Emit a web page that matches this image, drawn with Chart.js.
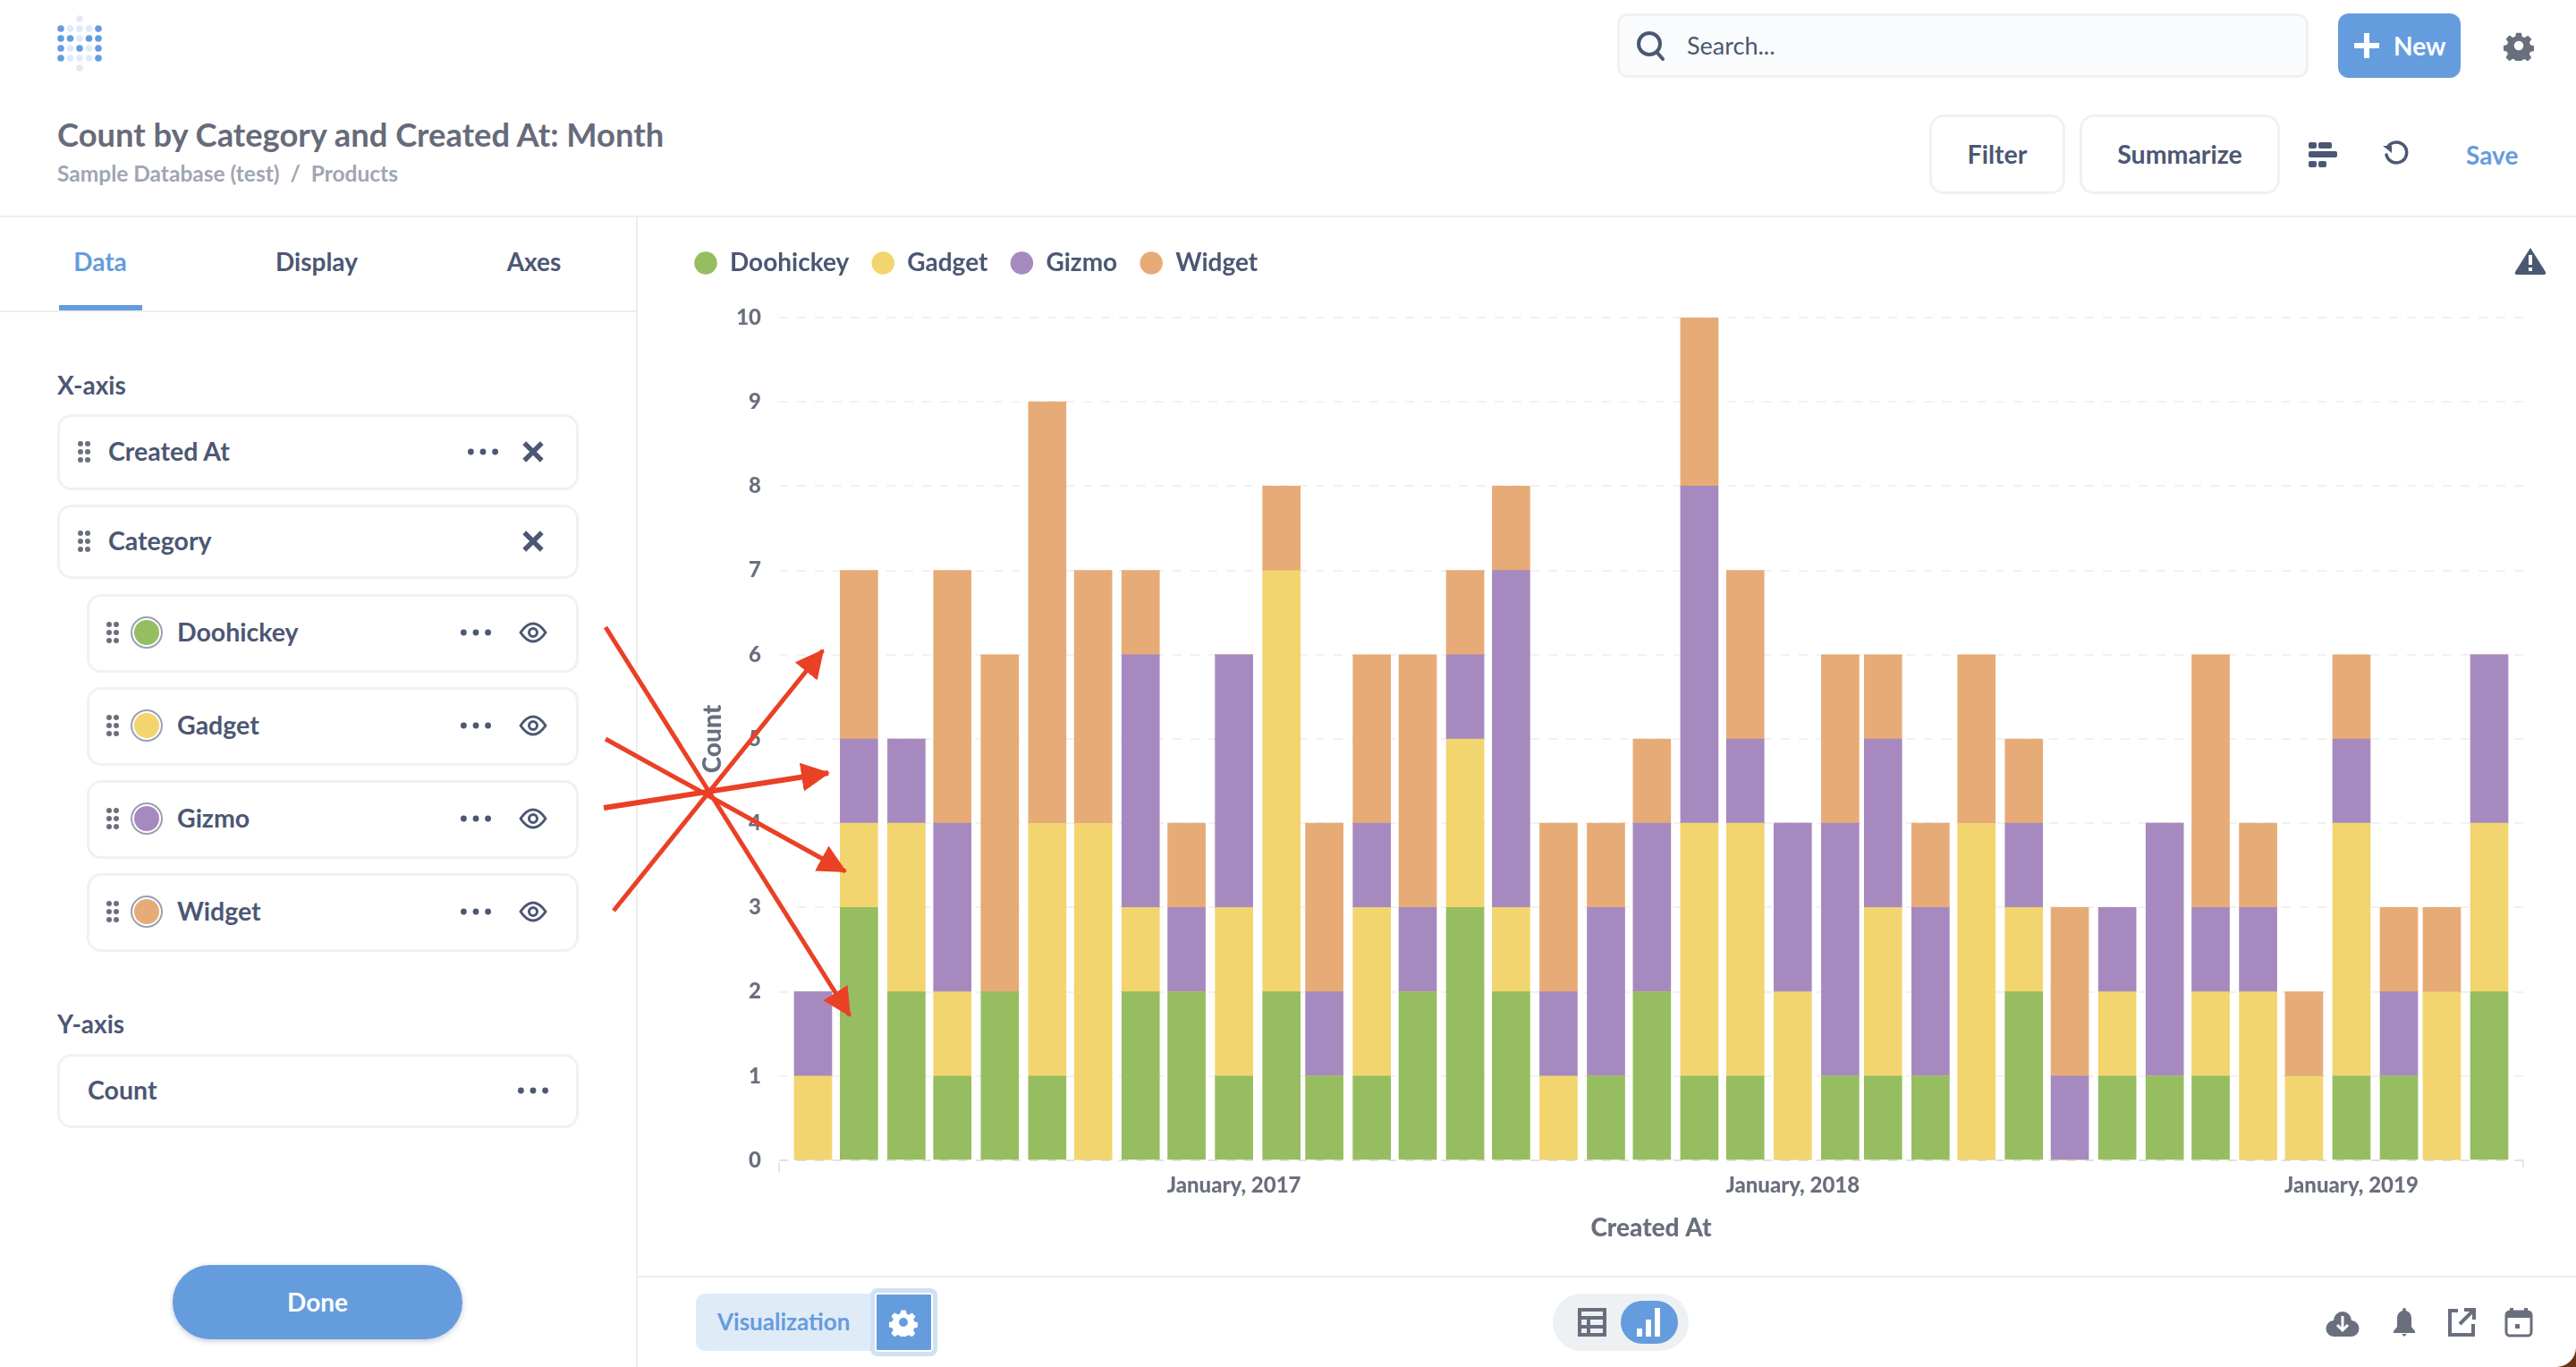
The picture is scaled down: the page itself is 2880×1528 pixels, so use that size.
<!DOCTYPE html>
<html>
<head>
<meta charset="utf-8">
<title>Count by Category and Created At: Month</title>
<script src="https://cdn.jsdelivr.net/npm/chart.js@4"></script>
<style>
  html, body { margin: 0; padding: 0; background: #fff; }
  body { position: relative; width: 2880px; height: 1528px; overflow: hidden; font-family: Lato, "Open Sans", sans-serif; font-weight: 700; color: #4c5773; }
  .t { position: absolute; line-height: 1; white-space: nowrap; transform: translateY(calc(-50% - 1.5px)); }
  .c { transform: translate(-50%, calc(-50% - 1.5px)); }
  .line { position: absolute; background: #eeeef0; }
  .box { position: absolute; box-sizing: border-box; border: 3px solid #f1f1f3; border-radius: 16px; background: #fff; }
  .ic { position: absolute; overflow: visible; }
  canvas { position: absolute; left: 751px; top: 255px; }
</style>
</head>
<body>

<svg width="0" height="0" style="position:absolute">
  <defs>
    <symbol id="gear" viewBox="0 0 32 32"><path fill="currentColor" fill-rule="evenodd" d="M13 1h6l1 4.500 2.800 1.200 4-2.500 4.200 4.200-2.500 4 1.200 2.800 4.300 1v6l-4.500 1-1.200 2.800 2.500 4-4.200 4.200-4-2.500-2.800 1.200-1 4.100h-6l-1-4.300-2.800-1.200-4 2.500-4.200-4.200 2.500-4-1.200-2.800-4.300-1v-6l4.500-1 1.200-2.800-2.500-4 4.200-4.200 4 2.500 2.800-1.200zM16 10.500a5.500 5.500 0 1 0 0 11 5.500 5.500 0 0 0 0-11z" transform="translate(1.600 1.600) scale(.9)"/></symbol>
    <symbol id="drag" viewBox="0 0 14 24"><g fill="currentColor"><circle cx="3" cy="3" r="3"/><circle cx="11" cy="3" r="3"/><circle cx="3" cy="12" r="3"/><circle cx="11" cy="12" r="3"/><circle cx="3" cy="21" r="3"/><circle cx="11" cy="21" r="3"/></g></symbol>
    <symbol id="more" viewBox="0 0 40 8"><g fill="currentColor"><circle cx="4" cy="4" r="4"/><circle cx="20" cy="4" r="4"/><circle cx="36" cy="4" r="4"/></g></symbol>
    <symbol id="eye" viewBox="0 0 32 24"><path fill="none" stroke="currentColor" stroke-width="3" stroke-linejoin="round" d="M2 12C7 4.500 11 2 16 2s9 2.500 14 10c-5 7.500-9 10-14 10S7 19.500 2 12z"/><circle cx="16" cy="12" r="4.500" fill="none" stroke="currentColor" stroke-width="3"/></symbol>
    <symbol id="cross" viewBox="0 0 24 24"><path stroke="currentColor" stroke-width="5" d="M3 3l18 18M21 3L3 21"/></symbol>
  </defs>
</svg>

<!-- logo -->
<svg class="ic" style="left:60px;top:14px" width="60" height="68" viewBox="0 0 60 68" id="logo"></svg>

<!-- top bar -->
<div class="box" style="left:1808px;top:15px;width:773px;height:72px;background:#f9fbfc;border-radius:12px"></div>
<svg class="ic" style="left:1828px;top:34px" width="36" height="36" viewBox="0 0 36 36"><circle cx="16" cy="15" r="12" fill="none" stroke="#4c5773" stroke-width="4"/><path d="M24 24l7 8" stroke="#4c5773" stroke-width="4" stroke-linecap="round"/></svg>
<div class="t" style="left:1886px;top:52px;font-size:27px;font-weight:400">Search...</div>
<div style="position:absolute;left:2614px;top:15px;width:137px;height:72px;background:#659cdd;border-radius:12px"></div>
<svg class="ic" style="left:2632px;top:37px" width="28" height="28" viewBox="0 0 28 28"><path d="M14 0v28M0 14h28" stroke="#fff" stroke-width="6"/></svg>
<div class="t" style="left:2676px;top:52px;font-size:28px;color:#fff">New</div>
<svg class="ic" style="left:2799px;top:34px;color:#6a6f7e" width="34" height="34"><use href="#gear"/></svg>

<div class="t" style="left:64px;top:152px;font-size:36.300px;color:#666b7a">Count by Category and Created At: Month</div>
<div class="t" style="left:64px;top:196px;font-size:24.500px;color:#a0a5b5">Sample Database (test)&nbsp; /&nbsp; Products</div>

<div class="box" style="left:2157px;top:128px;width:152px;height:89px"></div>
<div class="t c" style="left:2233px;top:174px;font-size:28.500px">Filter</div>
<div class="box" style="left:2325px;top:128px;width:224px;height:89px"></div>
<div class="t c" style="left:2437px;top:174px;font-size:28.500px">Summarize</div>
<svg class="ic" style="left:2581px;top:159px" width="32" height="28" viewBox="0 0 32 28"><g fill="#4c5773"><rect x="0" y="0" width="9" height="7" rx="2"/><rect x="11" y="0" width="15" height="7" rx="2"/><rect x="0" y="10" width="32" height="7" rx="2"/><rect x="0" y="21" width="9" height="7" rx="2"/><rect x="11" y="21" width="9" height="7" rx="2"/></g></svg>
<svg class="ic" style="left:2663px;top:157px" width="30" height="28" viewBox="0 0 30 28"><path d="M7 6.500A11.500 11.500 0 1 1 5 16" fill="none" stroke="#4c5773" stroke-width="3.500" stroke-linecap="round"/><path d="M1 6h10v8z" fill="#4c5773"/></svg>
<div class="t" style="left:2757px;top:174px;font-size:28px;color:#659cdd">Save</div>

<!-- dividers -->
<div class="line" style="left:0;top:241px;width:2880px;height:2px"></div>
<div class="line" style="left:711px;top:241px;width:2px;height:1287px"></div>
<div class="line" style="left:0;top:347px;width:711px;height:2px"></div>
<div class="line" style="left:711px;top:1426px;width:2169px;height:2px"></div>

<!-- side panel -->
<div class="t c" style="left:112px;top:293px;font-size:28px;color:#659cdd">Data</div>
<div class="t c" style="left:354px;top:293px;font-size:28px">Display</div>
<div class="t c" style="left:597px;top:293px;font-size:28px">Axes</div>
<div style="position:absolute;left:66px;top:341px;width:93px;height:6px;background:#659cdd"></div>

<div class="t" style="left:64px;top:431px;font-size:28px">X-axis</div>
<div id="rows"></div>
<div class="t" style="left:64px;top:1145px;font-size:28px">Y-axis</div>

<div style="position:absolute;left:193px;top:1414px;width:324px;height:83px;border-radius:42px;background:#659cdd;box-shadow:0 2px 6px rgba(60,80,110,.3)"></div>
<div class="t c" style="left:355px;top:1456px;font-size:28px;color:#fff">Done</div>

<canvas id="chart" width="2129" height="1173"></canvas>

<!-- axis end ticks -->
<div style="position:absolute;left:870px;top:1300px;width:2px;height:10px;background:#e4e4e6"></div>
<div style="position:absolute;left:2820px;top:1297px;width:2px;height:8px;background:#e4e4e6"></div>

<!-- warning icon -->
<svg class="ic" style="left:2811px;top:276px" width="36" height="31" viewBox="0 0 36 31"><path d="M18 1L35 28q1 3-2 3H3q-3 0-2-3z" fill="#4c5773"/><rect x="16" y="9" width="4" height="11" fill="#fff"/><rect x="16" y="23" width="4" height="4" fill="#fff"/></svg>

<!-- red annotation arrows -->
<svg class="ic" style="left:0;top:0;z-index:5" width="2880" height="1528">
  <defs>
    <marker id="head" markerUnits="userSpaceOnUse" markerWidth="36" markerHeight="36" refX="30" refY="16" orient="auto"><path d="M0 0L32 16L0 32z" fill="#ea4025"/></marker>
  </defs>
  <g stroke="#ea4025" stroke-width="5" fill="none">
    <path d="M677 701L950 1135" marker-end="url(#head)"/>
    <path d="M677 826L945 974" marker-end="url(#head)"/>
    <path d="M675 903L926 864" stroke-width="6" marker-end="url(#head)"/>
    <path d="M686 1018L920 727" marker-end="url(#head)"/>
  </g>
</svg>

<!-- footer -->
<div style="position:absolute;left:778px;top:1446px;width:200px;height:64px;background:#e0ebf8;border-radius:10px 0 0 10px"></div>
<div class="t" style="left:802px;top:1478px;font-size:26px;color:#659cdd">Visualization</div>
<div style="position:absolute;left:973px;top:1440px;width:75px;height:76px;box-sizing:border-box;background:#659cdd;border:5px solid #cfe1f5;outline:2px solid #fff;outline-offset:-7px;border-radius:8px"></div>
<svg class="ic" style="left:994px;top:1462px;color:#fff" width="32" height="32"><use href="#gear"/></svg>

<div style="position:absolute;left:1736px;top:1446px;width:152px;height:64px;background:#eef1f4;border-radius:32px"></div>
<svg class="ic" style="left:1764px;top:1462px" width="32" height="32" viewBox="0 0 32 32"><path d="M2 2h28v28H2zM2 11h28M2 21h28M12 11v19" fill="none" stroke="#6a6f7e" stroke-width="4"/></svg>
<div style="position:absolute;left:1812px;top:1454px;width:64px;height:48px;background:#659cdd;border-radius:24px"></div>
<svg class="ic" style="left:1830px;top:1462px" width="28" height="32" viewBox="0 0 28 32"><path fill="#fff" d="M0 23h6v9H0zM10 13h6v19h-6zM20 0h6v32h-6z"/></svg>

<svg class="ic" style="left:2601px;top:1464px" width="36" height="30" viewBox="0 0 36 30"><path fill="#6a6f7e" d="M9 30a9 9 0 0 1-1-18 10 10 0 0 1 20 0 9 9 0 0 1-1 18z"/><path d="M18 7v15M12 17l6 6 6-6" stroke="#fff" stroke-width="3" fill="none"/></svg>
<svg class="ic" style="left:2675px;top:1462px" width="26" height="32" viewBox="0 0 26 32"><path fill="#6a6f7e" d="M13 0q2 0 2 3 6 2 6 9v9l4 5v2H1v-2l4-5v-9q0-7 6-9 0-3 2-3zM10 29h6l-3 3z"/></svg>
<svg class="ic" style="left:2736px;top:1462px" width="32" height="32" viewBox="0 0 32 32"><path d="M12 3H3v27h26V18" fill="none" stroke="#6a6f7e" stroke-width="4"/><path d="M14 18L28 4M19 2h11v11" fill="none" stroke="#6a6f7e" stroke-width="4"/></svg>
<svg class="ic" style="left:2800px;top:1462px" width="32" height="32" viewBox="0 0 32 32"><rect x="2" y="4" width="28" height="27" rx="4" fill="#fff" stroke="#6a6f7e" stroke-width="3"/><path fill="#6a6f7e" d="M2 5h28v6H2zM6 0h4v6H6zM22 0h4v6h-4zM12 18h5v5h-5z"/></svg>

<!-- window corner -->
<svg class="ic" style="left:2858px;top:1506px" width="22" height="22" viewBox="0 0 22 22"><path d="M22 0v22H0A22 22 0 0 0 22 0z" fill="#6b3412"/></svg>

<script>
const months = ['2016-04','2016-05','2016-06','2016-07','2016-08','2016-09','2016-10','2016-11','2016-12',
  '2017-01','2017-02','2017-03','2017-04','2017-05','2017-06','2017-07','2017-08','2017-09','2017-10','2017-11','2017-12',
  '2018-01','2018-02','2018-03','2018-04','2018-05','2018-06','2018-07','2018-08','2018-09','2018-10','2018-11','2018-12',
  '2019-01','2019-02','2019-03','2019-04'];
const doohickey = [0,3,2,1,2,1,0,2,2,1,2,1,1,2,3,2,0,1,2,1,1,0,1,1,1,0,2,0,1,1,1,0,0,1,1,0,2];
const gadget    = [1,1,2,1,0,3,4,1,0,2,5,0,2,0,2,1,1,0,0,3,3,2,0,2,0,4,1,0,1,0,1,2,1,3,0,2,2];
const gizmo     = [1,1,1,2,0,0,0,3,1,3,0,1,1,1,1,4,1,2,2,4,1,2,3,2,2,0,1,1,1,3,1,1,0,1,1,0,2];
const widget    = [0,2,0,3,4,5,3,1,1,0,1,2,2,3,1,1,2,1,1,2,2,0,2,1,1,2,1,2,0,0,3,1,1,1,1,1,0];
const tickMonths = ['2017-01','2018-01','2019-01'];
const tickLabels = ['January, 2017','January, 2018','January, 2019'];
const categories = ['Doohickey','Gadget','Gizmo','Widget'];
const colors = ['#96bd60','#f2d56f','#a68abf','#e7ab77'];

const DAY = 86400000;
const toDay = m => Date.parse(m + '-01T00:00:00Z') / DAY;
const days = months.map(toDay);

// side panel rows
const rows = document.getElementById('rows');
function row(html){ rows.insertAdjacentHTML('beforeend', html); }
function icon(id, cx, cy, w, h, color){
  return `<svg class="ic" style="left:${cx-w/2}px;top:${cy-h/2}px;color:${color}" width="${w}" height="${h}"><use href="#${id}"/></svg>`;
}
function fieldRow(label, x0, y0, y1, textX, dragX, moreX, extra){
  const cy = (y0 + y1) / 2;
  row(`<div class="box" style="left:${x0}px;top:${y0}px;width:${647-x0}px;height:${y1-y0+2}px"></div>`);
  if (dragX) row(icon('drag', dragX, cy, 14, 24, '#6a6f7e'));
  row(`<div class="t" style="left:${textX}px;top:${cy+1}px;font-size:28.500px">${label}</div>`);
  if (moreX) row(icon('more', moreX, cy, 34, 8, '#4c5773'));
  if (extra) row(extra(cy));
}
fieldRow('Created At', 64, 463, 546, 121, 94, 540, cy => icon('cross', 596, cy, 26, 26, '#4c5773'));
fieldRow('Category', 64, 564, 645, 121, 94, 0, cy => icon('cross', 596, cy, 26, 26, '#4c5773'));
const rowTops = [664, 768, 872, 976];
categories.forEach((name, i) => {
  fieldRow(name, 97, rowTops[i], rowTops[i] + 86, 198, 126, 532, cy =>
    `<div style="position:absolute;left:146px;top:${cy-18}px;width:36px;height:36px;box-sizing:border-box;border:2px solid #9aa0b3;border-radius:50%;background:#fff"></div>` +
    `<div style="position:absolute;left:150px;top:${cy-14}px;width:28px;height:28px;border-radius:50%;background:${colors[i]}"></div>` +
    icon('eye', 596, cy, 32, 24, '#4c5773'));
});
fieldRow('Count', 64, 1178, 1259, 98, 0, 596);

// logo dots
const logoDark = [[0,1],[4,1],[0,2],[1,2],[3,2],[4,2],[0,3],[2,3],[4,3],[0,4],[4,4]];
let logo = '';
for (let c = 0; c < 5; c++) for (let r = 1; r < 5; r++) {
  const dark = logoDark.some(d => d[0] === c && d[1] === r);
  logo += `<circle cx="${8 + c * 10.500}" cy="${7 + r * 11}" r="3.800" fill="${dark ? '#659cdd' : '#dfeaf8'}"/>`;
}
logo += '<circle cx="29" cy="7" r="3.800" fill="#dfeaf8"/><circle cx="29" cy="62" r="3.800" fill="#dfeaf8"/>';
document.getElementById('logo').innerHTML = logo;

// chart
const series = [doohickey, gadget, gizmo, widget];
const datasets = categories.map((label, i) => ({
  label,
  data: days.map((d, j) => ({ x: d, y: series[i][j] })),
  backgroundColor: colors[i],
  borderWidth: 0,
  barThickness: 42
}));

const legendGap = {
  id: 'legendGap',
  beforeInit(chart){
    const fit = chart.legend.fit;
    chart.legend.fit = function(){ fit.call(this); this.height = 100; };
  }
};

const axisFont = { family: 'Lato', size: 24, weight: 900 };
new Chart(document.getElementById('chart'), {
  type: 'bar',
  data: { datasets },
  plugins: [legendGap],
  options: {
    responsive: false,
    animation: false,
    layout: { padding: { right: 59 }, autoPadding: false },
    plugins: {
      tooltip: { enabled: false },
      legend: {
        align: 'start',
        labels: {
          usePointStyle: true, pointStyle: 'circle', boxWidth: 26, boxHeight: 18, padding: 25,
          color: '#4c5773', font: { family: 'Lato', size: 28, weight: 700 }
        }
      }
    },
    scales: {
      x: {
        type: 'linear', stacked: true, offset: false,
        min: days[0] - 22.2, max: days[days.length - 1] + 22.2,
        afterBuildTicks: axis => { axis.ticks = tickMonths.map(m => ({ value: toDay(m) })); },
        afterFit: axis => { axis.height = 131; },
        grid: { display: false },
        border: { display: false },
        ticks: {
          autoSkip: false, maxRotation: 0, padding: 6, color: '#6a6f7e', font: axisFont,
          callback: v => tickLabels[tickMonths.map(toDay).indexOf(v)]
        },
        title: { display: true, text: 'Created At', color: '#6a6f7e', font: { family: 'Lato', size: 28, weight: 900 }, padding: { top: 0, bottom: 38 } }
      },
      y: {
        stacked: true, min: 0, max: 10,
        afterFit: axis => { axis.width = 120; },
        grid: { drawTicks: false, lineWidth: 2, color: c => c.tick.value === 0 ? '#e2e2e4' : '#f1f1f2' },
        border: { display: false, dash: [10, 10] },
        ticks: { stepSize: 1, padding: 20, color: '#6a6f7e', font: axisFont },
        title: { display: true, text: 'Count', color: '#6a6f7e', font: { family: 'Lato', size: 28, weight: 900 }, padding: { top: 29, bottom: 0 } }
      }
    }
  }
});
</script>
</body>
</html>
